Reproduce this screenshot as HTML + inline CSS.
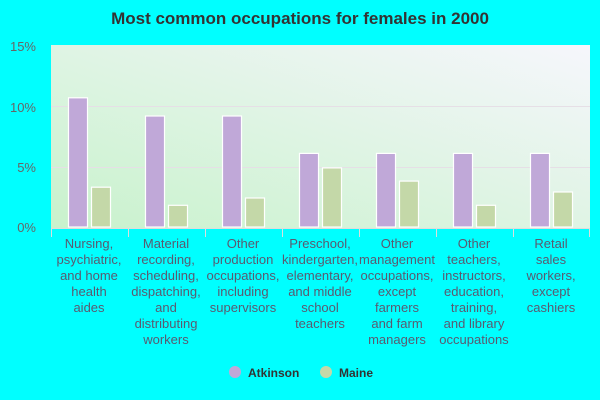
<!DOCTYPE html>
<html><head><style>
html,body{margin:0;padding:0;background:#00ffff;}
svg{display:block;font-family:"Liberation Sans",sans-serif;}
</style></head><body>
<svg width="600" height="400" viewBox="0 0 600 400">
<defs>
<linearGradient id="bg" x1="1" y1="0" x2="0" y2="1">
<stop offset="0" stop-color="#f6f6fc"/>
<stop offset="1" stop-color="#c8f2cc"/>
</linearGradient>
</defs>
<rect width="600" height="400" fill="#00ffff"/>
<text x="300" y="24" text-anchor="middle" font-size="17" font-weight="bold" fill="#333">Most common occupations for females in 2000</text>
<rect x="51" y="45" width="539" height="183" fill="url(#bg)"/>
<g stroke="#e6dfe6" stroke-width="1">
<line x1="51" y1="106.5" x2="590" y2="106.5"/>
<line x1="51" y1="167.5" x2="590" y2="167.5"/>
</g>
<g font-size="13" fill="#666" text-anchor="end">
<text x="36" y="51">15%</text>
<text x="36" y="112">10%</text>
<text x="36" y="172">5%</text>
<text x="36" y="232">0%</text>
</g>
<g stroke="#fff" stroke-width="1.2">
<rect x="68.5" y="97.8" width="19" height="129.2" fill="#c0a8d8"/>
<rect x="91.5" y="187.2" width="19" height="39.8" fill="#c4d8a8"/>
<rect x="145.5" y="116" width="19" height="111" fill="#c0a8d8"/>
<rect x="168.5" y="205.3" width="19" height="21.7" fill="#c4d8a8"/>
<rect x="222.5" y="116" width="19" height="111" fill="#c0a8d8"/>
<rect x="245.5" y="198" width="19" height="29" fill="#c4d8a8"/>
<rect x="299.5" y="153.4" width="19" height="73.6" fill="#c0a8d8"/>
<rect x="322.5" y="167.9" width="19" height="59.1" fill="#c4d8a8"/>
<rect x="376.5" y="153.4" width="19" height="73.6" fill="#c0a8d8"/>
<rect x="399.5" y="181.1" width="19" height="45.9" fill="#c4d8a8"/>
<rect x="453.5" y="153.4" width="19" height="73.6" fill="#c0a8d8"/>
<rect x="476.5" y="205.3" width="19" height="21.7" fill="#c4d8a8"/>
<rect x="530.5" y="153.4" width="19" height="73.6" fill="#c0a8d8"/>
<rect x="553.5" y="192" width="19" height="35" fill="#c4d8a8"/>
</g>
<g stroke="#ddd" stroke-width="1">
<line x1="51" y1="228.5" x2="590" y2="228.5"/>
<line x1="51.5" y1="228" x2="51.5" y2="237"/>
<line x1="128.5" y1="228" x2="128.5" y2="237"/>
<line x1="205.5" y1="228" x2="205.5" y2="237"/>
<line x1="282.5" y1="228" x2="282.5" y2="237"/>
<line x1="359.5" y1="228" x2="359.5" y2="237"/>
<line x1="436.5" y1="228" x2="436.5" y2="237"/>
<line x1="513.5" y1="228" x2="513.5" y2="237"/>
<line x1="589.5" y1="228" x2="589.5" y2="237"/>
</g>
<g font-size="13" fill="#5a5a70" text-anchor="middle">
<text x="89" y="248"><tspan x="89">Nursing,</tspan><tspan x="89" dy="16">psychiatric,</tspan><tspan x="89" dy="16">and home</tspan><tspan x="89" dy="16">health</tspan><tspan x="89" dy="16">aides</tspan></text>
<text x="166" y="248"><tspan x="166">Material</tspan><tspan x="166" dy="16">recording,</tspan><tspan x="166" dy="16">scheduling,</tspan><tspan x="166" dy="16">dispatching,</tspan><tspan x="166" dy="16">and</tspan><tspan x="166" dy="16">distributing</tspan><tspan x="166" dy="16">workers</tspan></text>
<text x="243" y="248"><tspan x="243">Other</tspan><tspan x="243" dy="16">production</tspan><tspan x="243" dy="16">occupations,</tspan><tspan x="243" dy="16">including</tspan><tspan x="243" dy="16">supervisors</tspan></text>
<text x="320" y="248"><tspan x="320">Preschool,</tspan><tspan x="320" dy="16">kindergarten,</tspan><tspan x="320" dy="16">elementary,</tspan><tspan x="320" dy="16">and middle</tspan><tspan x="320" dy="16">school</tspan><tspan x="320" dy="16">teachers</tspan></text>
<text x="397" y="248"><tspan x="397">Other</tspan><tspan x="397" dy="16">management</tspan><tspan x="397" dy="16">occupations,</tspan><tspan x="397" dy="16">except</tspan><tspan x="397" dy="16">farmers</tspan><tspan x="397" dy="16">and farm</tspan><tspan x="397" dy="16">managers</tspan></text>
<text x="474" y="248"><tspan x="474">Other</tspan><tspan x="474" dy="16">teachers,</tspan><tspan x="474" dy="16">instructors,</tspan><tspan x="474" dy="16">education,</tspan><tspan x="474" dy="16">training,</tspan><tspan x="474" dy="16">and library</tspan><tspan x="474" dy="16">occupations</tspan></text>
<text x="551" y="248"><tspan x="551">Retail</tspan><tspan x="551" dy="16">sales</tspan><tspan x="551" dy="16">workers,</tspan><tspan x="551" dy="16">except</tspan><tspan x="551" dy="16">cashiers</tspan></text>
</g>
<circle cx="235" cy="372" r="6" fill="#c0a8d8"/>
<text x="248" y="377" font-size="12" font-weight="bold" fill="#333">Atkinson</text>
<circle cx="326" cy="372" r="6" fill="#c4d8a8"/>
<text x="339" y="377" font-size="12" font-weight="bold" fill="#333">Maine</text>
</svg>
</body></html>
